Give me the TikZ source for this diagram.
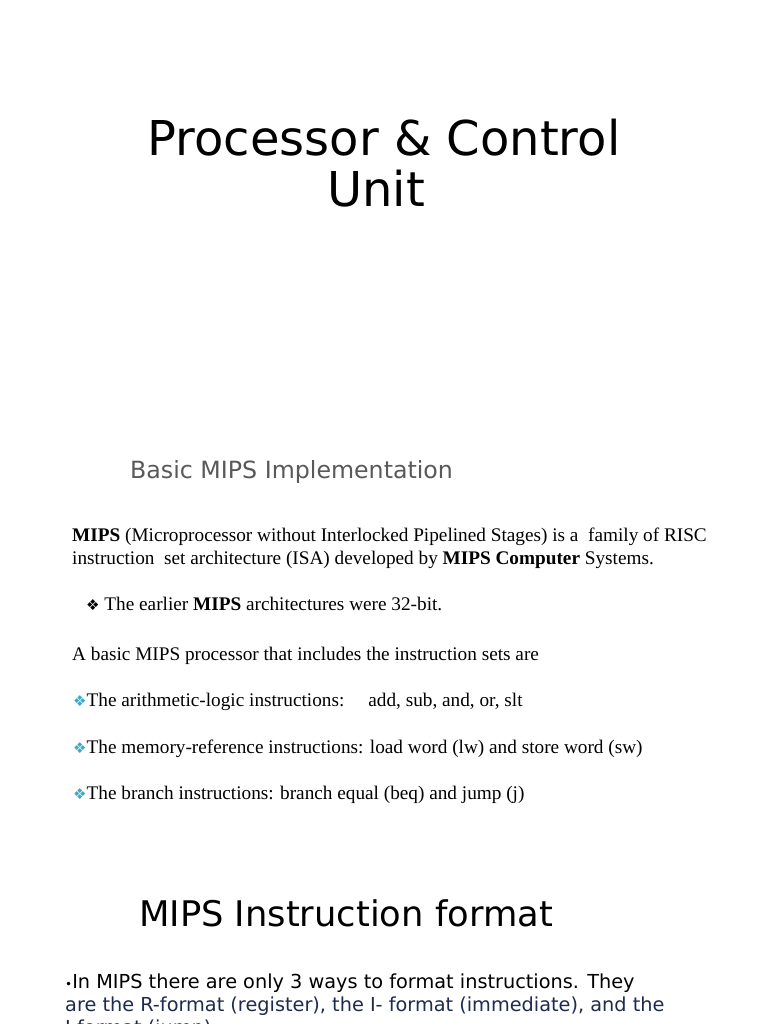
\documentclass[tikz,border=0pt]{standalone}
\usepackage{fontspec}
\setmainfont{Liberation Serif}
\newfontfamily\dvs{DejaVu Sans}
\definecolor{bul}{HTML}{3FA9C9}
\definecolor{navy}{HTML}{1F2A50}
\begin{document}
\begin{tikzpicture}[x=1pt,y=-1pt,
 tx/.style={anchor=base west,inner sep=0pt,font=\fontsize{19.25}{22}\selectfont},
 sx/.style={anchor=base west,inner sep=0pt,font=\dvs\fontsize{19.3}{23.5}\selectfont}]
\clip (0,0) rectangle (768,1024);
\useasboundingbox (0,0) rectangle (768,1024);
\fill[white] (0,0) rectangle (768,1024);
\node (t1) [anchor=base,inner sep=0pt,font=\dvs\fontsize{48}{50}\selectfont] at (384,156) {Processor \& Control};
\node (t2) [anchor=base,inner sep=0pt,font=\dvs\fontsize{48}{50}\selectfont] at (376,207) {Unit};
\node (h1) [anchor=base west,inner sep=0pt,text=black!65,font=\dvs\fontsize{23.7}{26}\selectfont] at (130,478) {Basic MIPS Implementation};
\node (p1) [tx] at (72,541) {\textbf{MIPS} (Microprocessor without Interlocked Pipelined Stages) is a\ \ family of RISC};
\node (p2) [tx] at (72,564) {instruction\ \ set architecture (ISA) developed by \textbf{MIPS Computer} Systems.};
\node (b0) [tx] at (86,610) {{\dvs\fontsize{15}{15}\selectfont ❖} The earlier \textbf{MIPS} architectures were 32-bit.};
\node (p3) [tx] at (72,660) {A basic MIPS processor that includes the instruction sets are};
\node (b1) [tx] at (73,706) {{\dvs\color{bul}\fontsize{15}{15}\selectfont ❖}The arithmetic-logic instructions:\hspace{24pt}add, sub, and, or, slt};
\node (b2) [tx] at (73,753) {{\dvs\color{bul}\fontsize{15}{15}\selectfont ❖}The memory-reference instructions: load word (lw) and store word (sw)};
\node (b3) [tx] at (73,799) {{\dvs\color{bul}\fontsize{15}{15}\selectfont ❖}The branch instructions: branch equal (beq) and jump (j)};
\node (h2) [anchor=base west,inner sep=0pt,font=\dvs\fontsize{35.3}{40}\selectfont] at (139,926) {MIPS Instruction format};
\node (q1) [sx] at (65,988) {{\fontsize{12}{12}\selectfont•}In MIPS there are only 3 ways to format instructions. They};
\node (q2) [sx,text=navy] at (65,1011) {are the R-format (register), the I- format (immediate), and the};
\node (q3) [sx,text=navy] at (65,1034) {J-format (jump).};
\end{tikzpicture}
\end{document}
